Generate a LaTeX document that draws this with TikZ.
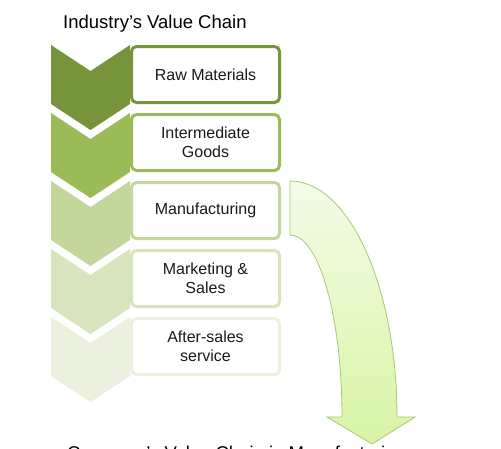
\documentclass[tikz,border=0pt]{standalone}
\usepackage{fontspec}
\setmainfont{Liberation Sans}
\definecolor{gA}{HTML}{77933C}
\definecolor{gB}{HTML}{9BBB59}
\definecolor{gC}{HTML}{C3D69B}
\definecolor{gD}{HTML}{D7E4BD}
\definecolor{gE}{HTML}{EBF1DE}
\definecolor{arrTop}{HTML}{F3FCE8}
\definecolor{arrBot}{HTML}{D8F5A4}
\definecolor{arrLine}{HTML}{A9C873}
\definecolor{txt}{HTML}{1A1A1A}
\begin{document}
\begin{tikzpicture}[x=1pt,y=-1pt,
  stagebox/.style={rectangle, rounded corners=5pt, minimum width=148pt, minimum height=56pt,
    fill=white, line width=3pt, inner sep=0pt, align=center, text=txt,
    font=\fontsize{16}{18.5}\selectfont},
  chevshape/.style={draw=none},
  titletext/.style={font=\fontsize{18.5}{22}\selectfont, text=black, inner sep=0pt}]
\useasboundingbox (0,0) rectangle (501,448);
\clip (0,0) rectangle (501,448);
\fill[white] (0,0) rectangle (501,448);

% title
\node[titletext, anchor=base west] (title) at (63,28) {Industry’s Value Chain};

% boxes
\node[stagebox, draw=gA] (b1) at (205.5,74.5) {Raw Materials};
\node[stagebox, draw=gB] (b2) at (205.5,142.5) {Intermediate\\Goods};
\node[stagebox, draw=gC] (b3) at (205.5,210.5) {Manufacturing};
\node[stagebox, draw=gD] (b4) at (205.5,278.5) {Marketing \&\\Sales};
\node[stagebox, draw=gE] (b5) at (205.5,346.5) {After-sales\\service};

% chevrons
\foreach \t/\c in {45/gA,113/gB,181/gC,249/gD,317/gE}{
  \fill[chevshape, fill=\c] (51,\t) -- (90.5,\t+26) -- (130,\t) -- (130,\t+59)
     -- (90.5,\t+85) -- (51,\t+59) -- cycle;
}

% curved arrow
\coordinate (o1) at (290,181);
\coordinate (o2) at (397,417);
\coordinate (h1) at (415,417);
\coordinate (tip) at (372,444);
\coordinate (h2) at (327,417);
\coordinate (i1) at (342,417);
\coordinate (i2) at (290,235);
\shade[top color=arrTop, bottom color=arrBot, draw=arrLine, line width=0.8pt, line join=miter]
  (o1) .. controls (349,181) and (397,287) .. (o2) -- (h1) -- (tip) -- (h2) -- (i1)
  .. controls (342,317) and (319,235) .. (i2) -- cycle;

% bottom caption (cut off by the picture edge, as in the reference)
\node[titletext, anchor=base west] (foot) at (67,459) {Company’s Value Chain in Manufacturing};
\end{tikzpicture}
\end{document}
